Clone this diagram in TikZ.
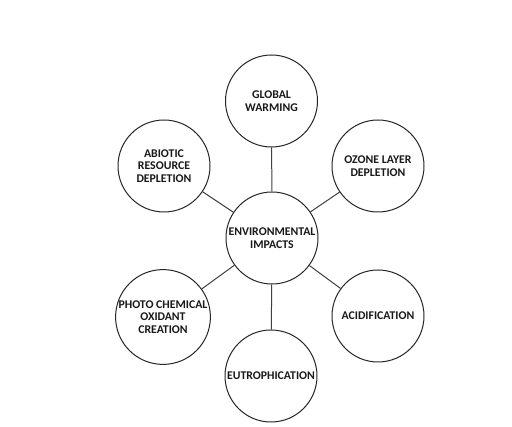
\documentclass[tikz,border=0pt]{standalone}
\usepackage{fontspec}
\setmainfont{Carlito}
\begin{document}
\begin{tikzpicture}[x=1pt,y=-1pt,
  bubble/.style={draw=black!85, line width=1pt, circle, minimum size=92pt, inner sep=0pt,
    align=center, font=\bfseries\fontsize{11.8}{12.6}\selectfont, text=black!90},
  link/.style={draw=black!75, line width=1pt}]
\useasboundingbox[fill=white] (0,0) rectangle (512,427);
\node[bubble] (c) at (272,238) {ENVIRONMENTAL\\IMPACTS};
\node[bubble] (g) at (271.5,101) {GLOBAL\\WARMING};
\node[bubble, minimum height=88pt] (a) at (164,166) {ABIOTIC\\RESOURCE\\DEPLETION};
\node[bubble, minimum height=88pt] (o) at (378,166) {OZONE LAYER\\DEPLETION};
\node[bubble] (p) at (163,317) {PHOTO CHEMICAL\\OXIDANT\\CREATION};
\node[bubble] (d) at (378,316) {ACIDIFICATION};
\node[bubble] (e) at (271,376) {EUTROPHICATION};
\draw[link] (c) -- (g);
\draw[link] (c) -- (a);
\draw[link] (c) -- (o);
\draw[link] (c) -- (p);
\draw[link] (c) -- (d);
\draw[link] (c) -- (e);
\end{tikzpicture}
\end{document}
